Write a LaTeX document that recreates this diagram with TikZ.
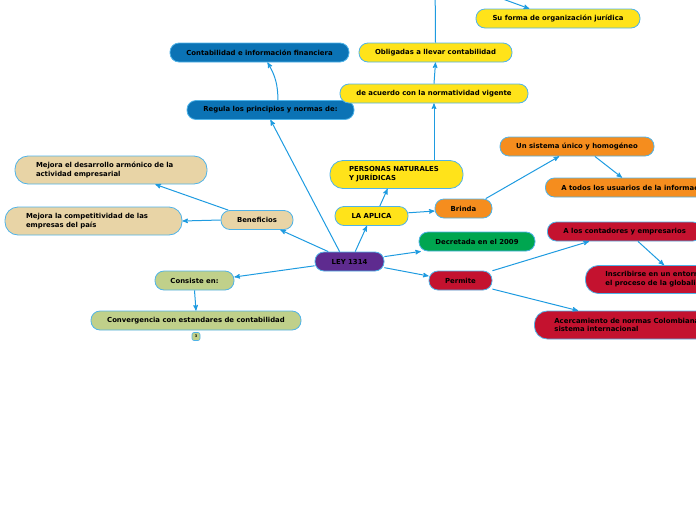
\documentclass[tikz,border=0pt]{standalone}
\usepackage{fontspec}
\setmainfont{DejaVu Sans}
\usetikzlibrary{arrows}
\definecolor{borde}{HTML}{4FB3E8}
\definecolor{flecha}{HTML}{1E9BE0}
\definecolor{amarillo}{HTML}{FFE31A}
\definecolor{naranja}{HTML}{F58D1E}
\definecolor{verde}{HTML}{00A650}
\definecolor{rojo}{HTML}{C4122F}
\definecolor{morado}{HTML}{5E2B8F}
\definecolor{azul}{HTML}{0B73B5}
\definecolor{beige}{HTML}{E8D4A6}
\definecolor{oliva}{HTML}{C0D08A}
\tikzset{
  nodo/.style = {draw=borde, line width=0.8pt, rounded corners=9pt,
    align=center, inner sep=0pt, text=black, minimum height=19pt,
    font=\bfseries\fontsize{6.9}{8.8}\selectfont},
  n_am/.style = {nodo, fill=amarillo},% nodo amarillo
  n_na/.style = {nodo, fill=naranja},% nodo naranja
  n_ve/.style = {nodo, fill=verde},% nodo verde
  n_ro/.style = {nodo, fill=rojo},% nodo rojo
  n_mo/.style = {nodo, fill=morado},% nodo morado (centro)
  n_az/.style = {nodo, fill=azul},% nodo azul
  n_be/.style = {nodo, fill=beige},% nodo beige
  n_ol/.style = {nodo, fill=oliva},% nodo oliva
  doble/.style = {align=left, minimum height=28pt, rounded corners=13pt},% dos lineas
  corte/.style = {anchor=west, inner xsep=16pt}% nodo cortado a la derecha
}

\begin{document}
\begin{tikzpicture}[x=1pt,y=-1pt,->,>=stealth',every edge/.style={draw=flecha},
                    line width=1pt]
  \useasboundingbox (0,0) rectangle (696,520);
  \clip (0,0) rectangle (696,520);
  \node [n_mo, minimum width=69pt] (ley) at (349.5,261.5) {LEY 1314};
  % rama azul
  \node [n_az, minimum width=167pt] (regula) at (270.5,110) {Regula los principios y normas de:};
  \node [n_az, minimum width=179pt] (contab) at (259.5,52.5) {Contabilidad e información financiera};
  % rama amarilla
  \node [n_am, minimum width=73pt] (aplica) at (371.5,216) {LA APLICA};
  \node [n_am, doble, text width=95pt, inner xsep=19pt] (personas) at (396.5,174.5)
        {PERSONAS NATURALES\\Y JURÍDICAS};
  \node [n_am, minimum width=188pt] (acuerdo) at (434,93.5) {de acuerdo con la normatividad vigente};
  \node [n_am, minimum width=153pt] (obligadas) at (435.5,52.5) {Obligadas a llevar contabilidad};
  \node [n_am, minimum width=164pt] (forma) at (558,18.5) {Su forma de organización jurídica};
  \coordinate (arriba) at (435,-30);
  \coordinate (fuera) at (478,-10);
  % rama naranja
  \node [n_na, minimum width=57pt] (brinda) at (463.5,208.5) {Brinda};
  \node [n_na, minimum width=154pt] (sistema) at (577,146.5) {Un sistema único y homogéneo};
  \node [n_na, corte] (todos) at (545,187.5) {A todos los usuarios de la información};
  % rama verde
  \node [n_ve, minimum width=116pt] (decretada) at (477,241.5) {Decretada en el 2009};
  % rama roja
  \node [n_ro, minimum width=63pt] (permite) at (460.5,280.5) {Permite};
  \node [n_ro, corte] (contadores) at (547,231.5) {A los contadores y empresarios};
  \node [n_ro, doble, corte, inner xsep=20pt] (inscribirse) at (585,279.5)
        {Inscribirse en un entorno que favorece\\el proceso de la globalización};
  \node [n_ro, doble, corte, inner xsep=20pt] (acercamiento) at (534,325)
        {Acercamiento de normas Colombianas al\\sistema internacional};
  % rama beige
  \node [n_be, minimum width=72pt] (beneficios) at (257,220) {Beneficios};
  \node [n_be, doble, text width=150pt, inner xsep=21pt] (mejora1) at (111,170)
        {Mejora el desarrollo armónico de la\\actividad empresarial};
  \node [n_be, doble, text width=135pt, inner xsep=21pt] (mejora2) at (93.5,221)
        {Mejora la competitividad de las\\empresas del país};
  % rama oliva
  \node [n_ol, minimum width=79pt] (consiste) at (194.5,280.5) {Consiste en:};
  \node [n_ol, minimum width=210pt] (convergencia) at (196,320.5) {Convergencia con estandares de contabilidad};
  \node [n_ol, line width=0.6pt, minimum width=8pt, minimum height=8pt, rounded corners=2pt,
         font=\bfseries\fontsize{3.5}{4}\selectfont] (tres) at (196,336.5) {3};
  % conectores
  \path (ley.135) edge (regula.south)
        (regula.53) edge [bend right=15] (contab.-51)
        (ley.60) edge (aplica.-115)
        (aplica.50) edge (personas.-122)
        (personas.north -| acuerdo.south) edge (acuerdo.south)
        (acuerdo.north) edge (obligadas.south)
        (obligadas.north) edge (arriba)
        (fuera) edge (forma.161)
        (aplica.5) edge (brinda.185)
        (brinda.24) edge (sistema.-151)
        (sistema.-29) edge ([xshift=77pt]todos.north west)
        (ley.8) edge (decretada.190)
        (ley.-10) edge (permite.172)
        (permite.17) edge ([xshift=42pt]contadores.south west)
        ([xshift=91pt]contadores.south west) edge ([xshift=79pt]inscribirse.north west)
        (permite.-15) edge ([xshift=44pt]acercamiento.north west)
        (ley.155) edge (beneficios.-23)
        (beneficios.161) edge (mejora1.-18)
        (beneficios.west) edge (mejora2.east)
        (ley.187) edge (consiste.5)
        (consiste.south) edge (convergencia.north);
\end{tikzpicture}
\end{document}
